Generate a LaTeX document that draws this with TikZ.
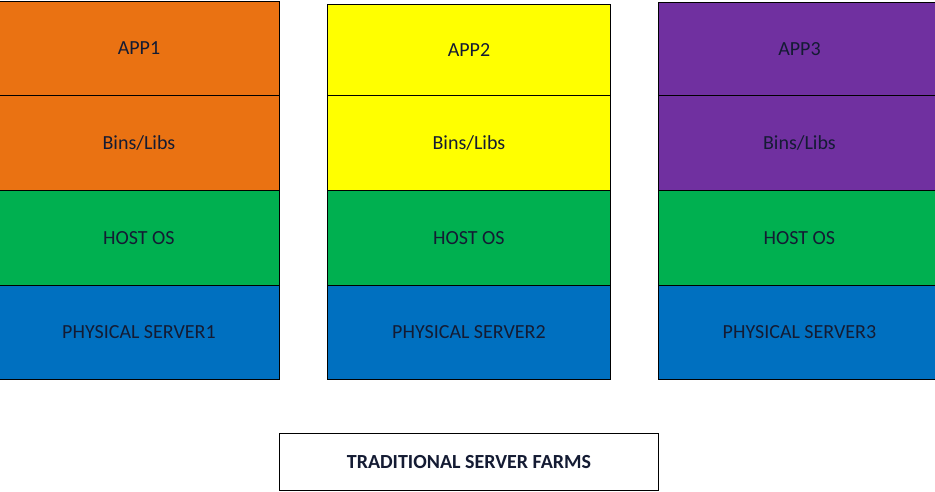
\documentclass[tikz,border=0pt]{standalone}
\usepackage{fontspec}
\setmainfont{Carlito}
\definecolor{cOrange}{HTML}{EA7212}
\definecolor{cYellow}{HTML}{FFFF00}
\definecolor{cPurple}{HTML}{7030A0}
\definecolor{cGreen}{HTML}{00B050}
\definecolor{cBlue}{HTML}{0070C0}
\definecolor{cText}{HTML}{141B33}
\begin{document}
\begin{tikzpicture}[x=1pt,y=-1pt,
  layer/.style={draw=black, line width=0.9pt, inner sep=0pt, anchor=north west,
    minimum height=#1, text=cText, font=\fontsize{20}{23}\selectfont},
  layer/.default={95pt},
  caption/.style={draw=black, line width=0.9pt, inner sep=0pt, anchor=north west,
    fill=white, minimum width=379pt, minimum height=57pt, text=cText,
    font=\fontsize{20}{23}\selectfont\bfseries}]
\useasboundingbox (0,0) rectangle (935,491);
\fill[white] (0,0) rectangle (935,491);
\begin{scope}
\clip (0,0) rectangle (935,491);
% column 1
\node[layer={94pt}, fill=cOrange, minimum width=281pt] (a1) at (-2,1) {APP1};
\node[layer, fill=cOrange, minimum width=281pt] (b1) at (-2,95) {Bins/Libs};
\node[layer, fill=cGreen, minimum width=281pt] (h1) at (-2,190) {HOST OS};
\node[layer={94pt}, fill=cBlue, minimum width=281pt] (p1) at (-2,285) {PHYSICAL SERVER1};
% column 2
\node[layer={91pt}, fill=cYellow, minimum width=283pt] (a2) at (327,4) {APP2};
\node[layer, fill=cYellow, minimum width=283pt] (b2) at (327,95) {Bins/Libs};
\node[layer, fill=cGreen, minimum width=283pt] (h2) at (327,190) {HOST OS};
\node[layer={94pt}, fill=cBlue, minimum width=283pt] (p2) at (327,285) {PHYSICAL SERVER2};
% column 3
\node[layer={93pt}, fill=cPurple, minimum width=282pt] (a3) at (658,2) {APP3};
\node[layer, fill=cPurple, minimum width=282pt] (b3) at (658,95) {Bins/Libs};
\node[layer, fill=cGreen, minimum width=282pt] (h3) at (658,190) {HOST OS};
\node[layer={94pt}, fill=cBlue, minimum width=282pt] (p3) at (658,285) {PHYSICAL SERVER3};
\end{scope}
% caption
\node[caption] (cap) at (279,433) {TRADITIONAL SERVER FARMS};
\end{tikzpicture}
\end{document}
